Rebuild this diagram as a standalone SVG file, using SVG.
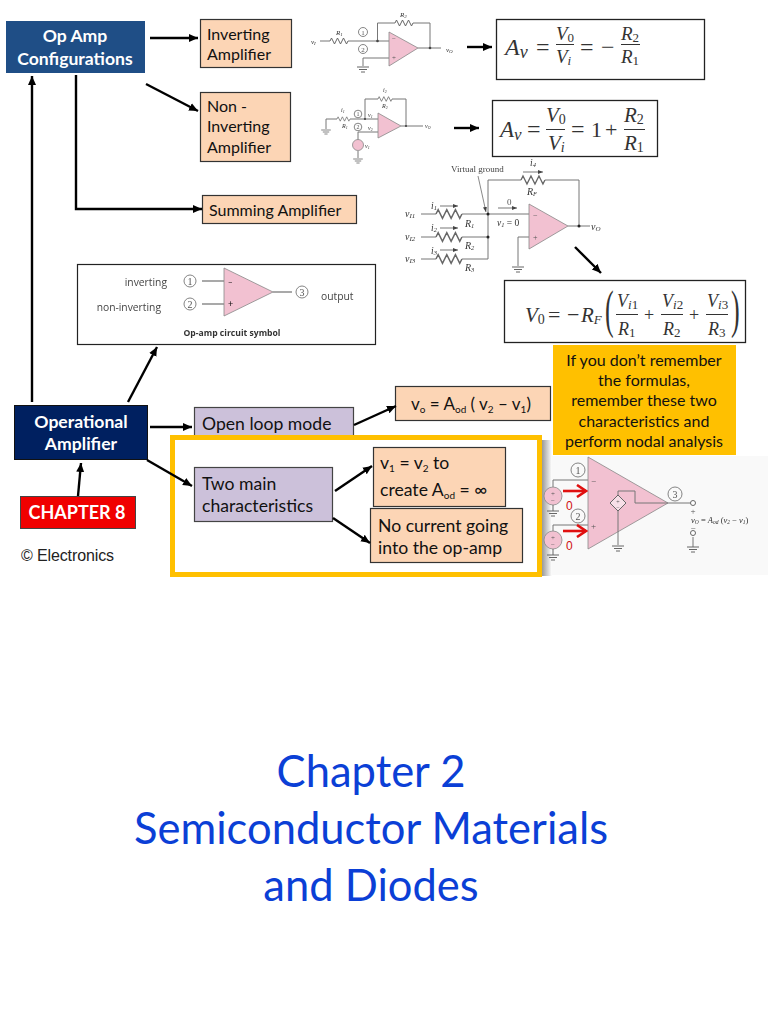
<svg xmlns="http://www.w3.org/2000/svg" width="768" height="1024" viewBox="0 0 768 1024">
<style>
text{font-family:Lato,"Open Sans",sans-serif;fill:#111}
.c{text-anchor:middle}
.w{fill:#fff;font-weight:700;font-size:17.600px}
.t15{font-size:16px}
.t16{font-size:17.600px}
.peach{fill:#fcd5b5;stroke:#333;stroke-width:1.2}
.pur{fill:#ccc1da;stroke:#444;stroke-width:1.2}
.fbox{fill:#fff;stroke:#222;stroke-width:1.3}
.conn{stroke:#000;stroke-width:2.4;fill:none;marker-end:url(#ah)}
.w1{stroke:#777;stroke-width:1;fill:none}
.pk{fill:#f2c1d1;stroke:#888;stroke-width:.8}
text.m{font-family:"Liberation Serif",serif;font-style:italic;fill:#333}
text.u{font-family:"Liberation Serif",serif;fill:#333}
.s{font-family:"Liberation Serif",serif;fill:#555}
.fr{stroke:#333;stroke-width:1;fill:none}
.cir{fill:none;stroke:#666;stroke-width:.8}
.n{font-style:normal}
</style>
<defs>
<marker id="ah" markerUnits="userSpaceOnUse" markerWidth="10" markerHeight="10" refX="9" refY="5" orient="auto"><path d="M0 1L9 5L0 9Z" fill="#000"/></marker>
<marker id="red" markerUnits="userSpaceOnUse" markerWidth="12" markerHeight="14" refX="10" refY="7" orient="auto"><path d="M1 1L10 7L1 13" fill="none" stroke="#e01010" stroke-width="2.6"/></marker>
<marker id="thin" markerUnits="userSpaceOnUse" markerWidth="6" markerHeight="6" refX="5" refY="3" orient="auto"><path d="M0 1L5 3L0 5Z" fill="#444"/></marker>
<filter id="soft" x="-5%" y="-5%" width="110%" height="110%"><feGaussianBlur stdDeviation=".35"/></filter>
<linearGradient id="shade"><stop offset="0" stop-color="#999"/><stop offset="1" stop-color="#fff"/></linearGradient>
<path id="zig" d="M0 0l1.5-3 3 6 3-6 3 6 3-6 3 6 1.5-3" fill="none" stroke="#666" stroke-width="1"/>
<path id="gnd" d="M-6 0h12M-4 2.5h8M-2 5h4" fill="none" stroke="#666" stroke-width="1"/>
</defs>

<g id="circuit-inverting" filter="url(#soft)">
<path class="w1" d="M320 41H330M348 41H389M377.500 41V23H395M413 23H430V48M418 48H441M389 58H363V66"/>
<use href="#zig" transform="translate(330 41)"/><use href="#zig" transform="translate(395 23)"/>
<use href="#gnd" transform="translate(363 67)"/>
<path class="pk" d="M389 32V66L418 48Z"/>
<circle cx="377.500" cy="41" r="1.300" fill="#444"/><circle cx="430" cy="48" r="1.300" fill="#444"/>
<circle class="cir" cx="363" cy="32" r="4.500"/><circle class="cir" cx="363" cy="49" r="4.500"/>
<text class="s c" x="363" y="34.500" font-size="7">1</text><text class="s c" x="363" y="51.500" font-size="7">2</text>
<text class="m" x="311" y="44" font-size="7">v<tspan font-size="5" dy="1">I</tspan></text>
<text class="m" x="336" y="35" font-size="7">R<tspan font-size="5" dy="1">1</tspan></text>
<text class="m" x="400" y="17" font-size="7">R<tspan font-size="5" dy="1">2</tspan></text>
<text class="m" x="446" y="52" font-size="7">v<tspan font-size="5" dy="1">O</tspan></text>
<text class="s" x="392" y="41" font-size="7">−</text><text class="s" x="392" y="60" font-size="7">+</text>
</g>

<g id="circuit-noninverting" filter="url(#soft)">
<path class="w1" d="M326 119V129M326 119H337M350 119H378M365 119V99H378M392 99H406V126M401 126H423M378 132H358V140M358 151V158"/>
<use href="#zig" transform="translate(337 119) scale(.72)"/><use href="#zig" transform="translate(378 99) scale(.78)"/>
<use href="#gnd" transform="translate(326 130) scale(.8)"/><use href="#gnd" transform="translate(358 159) scale(.8)"/>
<path class="pk" d="M378 113V138L401 126Z"/>
<circle class="pk" cx="358" cy="145" r="5.500"/>
<circle cx="365" cy="119" r="1.100" fill="#444"/><circle cx="406" cy="126" r="1.100" fill="#444"/>
<circle class="cir" cx="358" cy="114" r="3.800"/><circle class="cir" cx="358" cy="127" r="3.800"/>
<text class="s c" x="358" y="116" font-size="6">1</text><text class="s c" x="358" y="129" font-size="6">2</text>
<text class="m" x="341" y="112" font-size="6">i<tspan font-size="4" dy="1">1</tspan></text>
<text class="m" x="342" y="128" font-size="6">R<tspan font-size="4" dy="1">1</tspan></text>
<text class="m" x="383" y="92" font-size="6">i<tspan font-size="4" dy="1">2</tspan></text>
<text class="m" x="382" y="108" font-size="6">R<tspan font-size="4" dy="1">2</tspan></text>
<text class="m" x="368" y="117" font-size="6">v<tspan font-size="4" dy="1">1</tspan></text>
<text class="m" x="368" y="130" font-size="6">v<tspan font-size="4" dy="1">2</tspan></text>
<text class="m" x="365" y="148" font-size="6">v<tspan font-size="4" dy="1">1</tspan></text>
<text class="m" x="425" y="128" font-size="6">v<tspan font-size="4" dy="1">O</tspan></text>
</g>

<g id="circuit-summing" filter="url(#soft)">
<path class="w1" d="M421 214H436M462 214H529M421 237H436M462 237H488M421 259H436M462 259H488M488 259V180H521M545 180H579V226M568 226H590M529 237H518V266"/>
<use href="#zig" transform="translate(436 214) scale(1.440)"/><use href="#zig" transform="translate(436 237) scale(1.440)"/><use href="#zig" transform="translate(436 259) scale(1.440)"/><use href="#zig" transform="translate(521 180) scale(1.330)"/>
<use href="#gnd" transform="translate(518 267)"/>
<path class="pk" d="M529 204V249L568 226Z"/>
<circle cx="488" cy="214" r="1.500" fill="#222"/><circle cx="488" cy="237" r="1.500" fill="#222"/><circle cx="579" cy="226" r="1.500" fill="#222"/>
<path d="M478 176L486 212" stroke="#555" stroke-width=".7" marker-end="url(#thin)"/>
<path d="M498 208H517" stroke="#555" stroke-width=".8" marker-end="url(#thin)"/>
<path d="M440 206H458" stroke="#555" stroke-width=".8" marker-end="url(#thin)"/>
<path d="M440 228H458" stroke="#555" stroke-width=".8" marker-end="url(#thin)"/>
<path d="M440 250H458" stroke="#555" stroke-width=".8" marker-end="url(#thin)"/>
<path d="M523 172H543" stroke="#555" stroke-width=".8" marker-end="url(#thin)"/>
<text x="451" y="172" font-size="9" style="font-family:'Liberation Serif',serif;fill:#444">Virtual ground</text>
<text class="m" x="530" y="166" font-size="9.500">i<tspan font-size="6.500" dy="1">4</tspan></text>
<text class="m" x="527" y="195" font-size="10">R<tspan font-size="6.500" dy="1">F</tspan></text>
<text class="s" x="507" y="205" font-size="9">0</text>
<text class="m" x="497" y="226" font-size="9.500">v<tspan font-size="6.500" dy="1">1</tspan><tspan dy="-1" class="n"> = 0</tspan></text>
<text class="m" x="405" y="217" font-size="10">v<tspan font-size="7" dy="1">I1</tspan></text>
<text class="m" x="405" y="240" font-size="10">v<tspan font-size="7" dy="1">I2</tspan></text>
<text class="m" x="405" y="262" font-size="10">v<tspan font-size="7" dy="1">I3</tspan></text>
<text class="m" x="431" y="209" font-size="9.500">i<tspan font-size="6.500" dy="1">1</tspan></text>
<text class="m" x="431" y="231" font-size="9.500">i<tspan font-size="6.500" dy="1">2</tspan></text>
<text class="m" x="431" y="254" font-size="9.500">i<tspan font-size="6.500" dy="1">3</tspan></text>
<text class="m" x="465" y="227" font-size="10">R<tspan font-size="6.500" dy="1">1</tspan></text>
<text class="m" x="465" y="249" font-size="10">R<tspan font-size="6.500" dy="1">2</tspan></text>
<text class="m" x="465" y="271" font-size="10">R<tspan font-size="6.500" dy="1">3</tspan></text>
<text class="m" x="591" y="230" font-size="10">v<tspan font-size="7" dy="1">O</tspan></text>
<text class="s" x="533" y="218" font-size="8">−</text><text class="s" x="533" y="240" font-size="8">+</text>
</g>

<g id="formula-inverting">
<rect class="fbox" x="496.500" y="19.500" width="208" height="60"/>
<text class="m" x="505" y="55" font-size="24">A<tspan font-size="18" dy="3">v</tspan></text>
<text class="u" x="536" y="55" font-size="24">=</text>
<text class="m" x="556" y="40" font-size="19">V<tspan font-size="13" dy="2" class="n">0</tspan></text>
<path class="fr" d="M556 44.500H574"/>
<text class="m" x="556" y="63" font-size="19">V<tspan font-size="13" dy="2">i</tspan></text>
<text class="u" x="580" y="55" font-size="24">=</text>
<text class="u" x="601" y="55" font-size="24">−</text>
<text class="m" x="621" y="40" font-size="19">R<tspan font-size="13" dy="2" class="n">2</tspan></text>
<path class="fr" d="M621 44.500H640"/>
<text class="m" x="621" y="63" font-size="19">R<tspan font-size="13" dy="2" class="n">1</tspan></text>
</g>
<g id="formula-noninverting">
<rect class="fbox" x="492.500" y="100.500" width="165" height="56"/>
<text class="m" x="500" y="137" font-size="23">A<tspan font-size="17" dy="3">v</tspan></text>
<text class="u" x="527" y="137" font-size="24">=</text>
<text class="m" x="546" y="122" font-size="21">V<tspan font-size="14" dy="2" class="n">0</tspan></text>
<path class="fr" d="M546 129.500H565"/>
<text class="m" x="548" y="150" font-size="21">V<tspan font-size="14" dy="2">i</tspan></text>
<text class="u" x="571" y="137" font-size="24">=</text>
<text class="u" x="591" y="137" font-size="22">1</text>
<text class="u" x="605" y="137" font-size="22">+</text>
<text class="m" x="624" y="122" font-size="21">R<tspan font-size="14" dy="2" class="n">2</tspan></text>
<path class="fr" d="M624 129.500H645"/>
<text class="m" x="624" y="150" font-size="21">R<tspan font-size="14" dy="2" class="n">1</tspan></text>
</g>
<g id="formula-summing">
<rect class="fbox" x="504.500" y="280.500" width="241" height="62"/>
<text class="m" x="525" y="322" font-size="21">V<tspan font-size="14" dy="2" class="n">0</tspan></text>
<text class="u" x="548" y="322" font-size="22">=</text>
<text class="u" x="567" y="322" font-size="22">−</text>
<text class="m" x="581" y="322" font-size="21">R<tspan font-size="13" dy="2">F</tspan></text>
<text class="u" transform="translate(605 327) scale(.5 1)" font-size="52">(</text>
<text class="u" transform="translate(731 327) scale(.5 1)" font-size="52">)</text>
<text class="m" x="617" y="307" font-size="18">V<tspan font-size="13" dy="2">i</tspan><tspan font-size="13" class="n">1</tspan></text>
<path class="fr" d="M616 314.500H638"/>
<text class="m" x="618" y="335" font-size="18">R<tspan font-size="13" dy="2" class="n">1</tspan></text>
<text class="u" x="644" y="321" font-size="18">+</text>
<text class="m" x="662" y="307" font-size="18">V<tspan font-size="13" dy="2">i</tspan><tspan font-size="13" class="n">2</tspan></text>
<path class="fr" d="M661 314.500H683"/>
<text class="m" x="663" y="335" font-size="18">R<tspan font-size="13" dy="2" class="n">2</tspan></text>
<text class="u" x="689" y="321" font-size="18">+</text>
<text class="m" x="707" y="307" font-size="18">V<tspan font-size="13" dy="2">i</tspan><tspan font-size="13" class="n">3</tspan></text>
<path class="fr" d="M706 314.500H728"/>
<text class="m" x="708" y="335" font-size="18">R<tspan font-size="13" dy="2" class="n">3</tspan></text>
</g>

<g id="symbol">
<rect x="77.500" y="264.500" width="298" height="80" fill="#fff" stroke="#222" stroke-width="1.200"/>
<g filter="url(#soft)">
<path d="M202 281H224M202 304H224M273 292H292" stroke="#555" stroke-width="1" fill="none"/>
<path class="pk" d="M224 268V316L273 292Z"/>
<circle class="cir" cx="190" cy="281" r="6"/><circle class="cir" cx="190" cy="304" r="6"/><circle class="cir" cx="302" cy="292" r="6"/>
<text class="s c" x="190" y="284.500" font-size="10">1</text><text class="s c" x="190" y="307.500" font-size="10">2</text><text class="s c" x="302" y="295.500" font-size="10">3</text>
<text x="228" y="285" font-size="8" fill="#666">−</text><text x="228" y="307" font-size="9">+</text>
<text x="167" y="286" font-size="10.300" text-anchor="end" style="font-family:'Open Sans',sans-serif;fill:#444">inverting</text>
<text x="161" y="311" font-size="10.300" text-anchor="end" style="font-family:'Open Sans',sans-serif;fill:#444">non-inverting</text>
<text x="321" y="300" font-size="10.300" style="font-family:'Open Sans',sans-serif;fill:#444">output</text>
<text x="232" y="336" font-size="8.600" font-weight="700" class="c" style="font-family:'Open Sans',sans-serif;fill:#333">Op-amp circuit symbol</text>
</g>
</g>

<g id="op-amp-configurations"><rect x="6" y="21" width="139" height="52" fill="#1f4e86"/><text class="w c" x="75" y="42">Op Amp</text><text class="w c" x="75" y="65">Configurations</text></g>
<g id="inverting"><rect class="peach" x="200.500" y="19.500" width="91" height="48"/><text class="t15" x="207" y="40">Inverting</text><text class="t15" x="207" y="60">Amplifier</text></g>
<g id="non-inverting"><rect class="peach" x="200.500" y="92.500" width="90" height="69"/><text class="t15" x="207" y="112">Non -</text><text class="t15" x="207" y="132">Inverting</text><text class="t15" x="207" y="153">Amplifier</text></g>
<g id="summing"><rect class="peach" x="202.500" y="195.500" width="154" height="28"/><text class="t15" x="209" y="216">Summing Amplifier</text></g>
<g id="operational-amplifier"><rect x="14.500" y="405.500" width="133" height="54" fill="#002060" stroke="#111"/><text class="w c" x="81" y="428">Operational</text><text class="w c" x="81" y="450">Amplifier</text></g>
<g id="open-loop"><rect class="pur" x="194.500" y="407.500" width="159" height="34"/><text class="t16" x="202" y="430">Open loop mode</text></g>
<g id="vo-formula"><rect class="peach" x="395.500" y="386.500" width="155" height="34"/><text x="411" y="410" font-size="17">v<tspan font-size="10" dy="3">o</tspan><tspan dy="-3"> = A</tspan><tspan font-size="10" dy="3">od</tspan><tspan dy="-3"> ( v</tspan><tspan font-size="10" dy="3">2</tspan><tspan dy="-3"> – v</tspan><tspan font-size="10" dy="3">1</tspan><tspan dy="-3">)</tspan></text></g>
<g id="note"><rect x="553" y="345" width="183" height="110" fill="#ffc000"/><text class="t15 c" x="644" y="366">If you don’t remember</text><text class="t15 c" x="644" y="386">the formulas,</text><text class="t15 c" x="644" y="406">remember these two</text><text class="t15 c" x="644" y="427">characteristics and</text><text class="t15 c" x="644" y="447">perform nodal analysis</text></g>
<rect id="frame-shadow" x="542" y="440" width="10" height="136" fill="url(#shade)"/>
<g id="characteristics-frame"><rect x="172.500" y="437.500" width="367" height="137" fill="#fff" stroke="#ffc000" stroke-width="5"/></g>
<g id="two-main"><rect class="pur" x="194.500" y="467.500" width="138" height="54"/><text class="t16" x="202" y="490">Two main</text><text class="t16" x="202" y="512">characteristics</text></g>
<g id="v1-v2"><rect class="peach" x="373.500" y="447.500" width="132" height="59"/><text class="t16" x="380" y="469">v<tspan font-size="10" dy="3">1</tspan><tspan dy="-3"> = v</tspan><tspan font-size="10" dy="3">2</tspan><tspan dy="-3"> to</tspan></text><text class="t16" x="380" y="496">create A<tspan font-size="10" dy="3">od</tspan><tspan dy="-3"> = ∞</tspan></text></g>
<g id="no-current"><rect class="peach" x="370.500" y="508.500" width="152" height="54"/><text class="t16" x="378" y="532">No current going</text><text class="t16" x="378" y="554">into the op-amp</text></g>
<g id="chapter-8"><rect x="20.500" y="496.500" width="115" height="32" fill="#f00000" stroke="#444"/><text class="w c" x="77" y="519" style="font-size:18px">CHAPTER 8</text></g>
<text id="copyright" x="21" y="561" style="font-family:'Liberation Sans',sans-serif;font-size:16px;fill:#222" textLength="93">© Electronics</text>

<g id="circuit-open-loop">
<rect x="552" y="456" width="216" height="119" fill="#f9f9f9"/>
<g filter="url(#soft)">
<path class="w1" d="M553 487V480H588M553 531V525H588M668 503H691M693 537V547"/>
<circle class="pk" cx="553" cy="496" r="9"/><circle class="pk" cx="553" cy="540" r="9"/>
<path d="M553 505V511" stroke="#666"/><path d="M553 549V555" stroke="#666"/>
<use href="#gnd" transform="translate(553 511)"/><use href="#gnd" transform="translate(553 555)"/>
<use href="#gnd" transform="translate(618 546)"/><use href="#gnd" transform="translate(693 547)"/>
<path class="pk" d="M588 457V549L668 503Z"/>
<path d="M618 495L626 503L618 511L610 503Z" fill="#f7dfe7" stroke="#666"/>
<path class="w1" d="M618 495V491H635V503H668M618 511V545"/>
<circle cx="693" cy="503" r="2.500" fill="#fff" stroke="#666"/><circle cx="693" cy="533" r="2.500" fill="#fff" stroke="#666"/>
<circle class="cir" cx="578" cy="470" r="7"/><circle class="cir" cx="578" cy="516" r="7"/><circle class="cir" cx="675" cy="494" r="7"/>
<text class="s c" x="578" y="473.500" font-size="10">1</text><text class="s c" x="578" y="519.500" font-size="10">2</text><text class="s c" x="675" y="497.500" font-size="10">3</text>
<text class="s" x="591" y="484" font-size="9">−</text><text class="s" x="591" y="529" font-size="9">+</text>
<text class="s" x="551" y="496" font-size="7">+</text><text class="s" x="551" y="503" font-size="7">−</text>
<text class="s" x="551" y="540" font-size="7">+</text><text class="s" x="551" y="547" font-size="7">−</text>
<text class="s c" x="618" y="504" font-size="6">+</text><text class="s c" x="618" y="509" font-size="6">−</text>
<text class="s c" x="693" y="514" font-size="9">+</text><text class="s c" x="693" y="531" font-size="9">−</text>
<text class="m" x="691" y="523" font-size="8.500">v<tspan font-size="5.500" dy="1">O</tspan><tspan dy="-1" class="n"> = </tspan>A<tspan font-size="5.500" dy="1">od</tspan><tspan dy="-1" class="n"> (</tspan>v<tspan font-size="5.500" dy="1">2</tspan><tspan dy="-1" class="n"> − </tspan>v<tspan font-size="5.500" dy="1">1</tspan><tspan dy="-1" class="n">)</tspan></text>
</g>
<path d="M563 491H586" stroke="#e01010" stroke-width="2.600" fill="none" marker-end="url(#red)"/>
<path d="M563 531H586" stroke="#e01010" stroke-width="2.600" fill="none" marker-end="url(#red)"/>
<text x="566" y="510" font-size="12" style="font-family:'Liberation Sans',sans-serif;fill:#d01010">0</text>
<text x="566" y="550" font-size="12" style="font-family:'Liberation Sans',sans-serif;fill:#d01010">0</text>
</g>

<g id="connectors">
<path class="conn" d="M150 38H198"/>
<path class="conn" d="M146 84L198 111"/>
<path class="conn" d="M76 75V209H202"/>
<path class="conn" d="M32 402V76"/>
<path class="conn" d="M128 402L157 347"/>
<path class="conn" d="M150 427H192"/>
<path class="conn" d="M354 425L396 406"/>
<path class="conn" d="M147 460L192 486"/>
<path class="conn" d="M78 496L81 463"/>
<path class="conn" d="M335 491L372 466"/>
<path class="conn" d="M333 518L370 543"/>
<path class="conn" d="M467 47H492"/>
<path class="conn" d="M454 128H479"/>
<path class="conn" d="M575 247L601 273"/>
</g>

<g id="title" style="font-size:43.500px">
<text class="c" x="371" y="787" style="fill:#0b3fd6">Chapter 2</text>
<text class="c" x="371" y="844" style="fill:#0b3fd6">Semiconductor Materials</text>
<text class="c" x="371" y="901" style="fill:#0b3fd6">and Diodes</text>
</g>
</svg>
